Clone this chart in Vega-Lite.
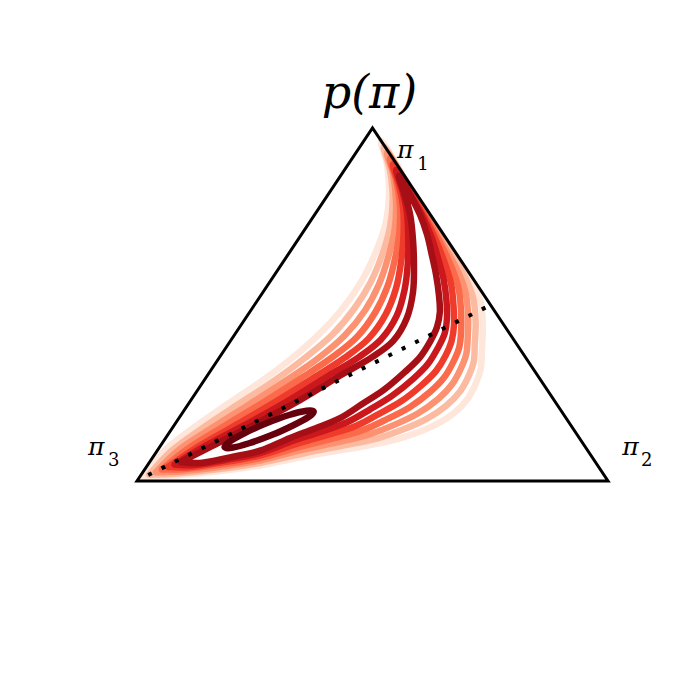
{
  "$schema": "https://vega.github.io/schema/vega-lite/v6.json",
  "width": 471,
  "height": 353,
  "autosize": {"type": "none"},
  "padding": {"left": 137, "top": 128, "right": 69, "bottom": 196},
  "background": "white",
  "config": {"view": {"stroke": null}},
  "datasets": {
    "contours": [
      {"lv":1,"i":1,"x":0.013,"y":0.011},{"lv":1,"i":2,"x":0.059,"y":0.014},{"lv":1,"i":3,"x":0.155,"y":0.025},{"lv":1,"i":4,"x":0.261,"y":0.044},
      {"lv":1,"i":5,"x":0.367,"y":0.072},{"lv":1,"i":6,"x":0.452,"y":0.091},{"lv":1,"i":7,"x":0.527,"y":0.110},{"lv":1,"i":8,"x":0.580,"y":0.130},
      {"lv":1,"i":9,"x":0.633,"y":0.159},{"lv":1,"i":10,"x":0.675,"y":0.195},{"lv":1,"i":11,"x":0.703,"y":0.235},{"lv":1,"i":12,"x":0.720,"y":0.278},
      {"lv":1,"i":13,"x":0.730,"y":0.320},{"lv":1,"i":14,"x":0.732,"y":0.365},{"lv":1,"i":15,"x":0.734,"y":0.433},{"lv":1,"i":16,"x":0.730,"y":0.504},
      {"lv":1,"i":17,"x":0.711,"y":0.564},{"lv":1,"i":18,"x":0.675,"y":0.640},{"lv":1,"i":19,"x":0.637,"y":0.717},{"lv":1,"i":20,"x":0.584,"y":0.824},
      {"lv":1,"i":21,"x":0.518,"y":0.963},{"lv":1,"i":22,"x":0.531,"y":0.895},{"lv":1,"i":23,"x":0.535,"y":0.810},{"lv":1,"i":24,"x":0.527,"y":0.725},
      {"lv":1,"i":25,"x":0.507,"y":0.649},{"lv":1,"i":26,"x":0.478,"y":0.569},{"lv":1,"i":27,"x":0.439,"y":0.493},{"lv":1,"i":28,"x":0.389,"y":0.419},
      {"lv":1,"i":29,"x":0.329,"y":0.348},{"lv":1,"i":30,"x":0.259,"y":0.278},{"lv":1,"i":31,"x":0.183,"y":0.210},{"lv":1,"i":32,"x":0.113,"y":0.144},
      {"lv":1,"i":33,"x":0.055,"y":0.082},{"lv":1,"i":34,"x":0.013,"y":0.011},

      {"lv":2,"i":1,"x":0.026,"y":0.018},{"lv":2,"i":2,"x":0.072,"y":0.020},{"lv":2,"i":3,"x":0.162,"y":0.032},{"lv":2,"i":4,"x":0.261,"y":0.051},
      {"lv":2,"i":5,"x":0.360,"y":0.080},{"lv":2,"i":6,"x":0.440,"y":0.101},{"lv":2,"i":7,"x":0.511,"y":0.121},{"lv":2,"i":8,"x":0.563,"y":0.145},
      {"lv":2,"i":9,"x":0.615,"y":0.176},{"lv":2,"i":10,"x":0.657,"y":0.214},{"lv":2,"i":11,"x":0.686,"y":0.254},{"lv":2,"i":12,"x":0.704,"y":0.297},
      {"lv":2,"i":13,"x":0.715,"y":0.339},{"lv":2,"i":14,"x":0.717,"y":0.384},{"lv":2,"i":15,"x":0.719,"y":0.449},{"lv":2,"i":16,"x":0.714,"y":0.517},
      {"lv":2,"i":17,"x":0.697,"y":0.577},{"lv":2,"i":18,"x":0.665,"y":0.650},{"lv":2,"i":19,"x":0.631,"y":0.723},{"lv":2,"i":20,"x":0.583,"y":0.822},
      {"lv":2,"i":21,"x":0.524,"y":0.947},{"lv":2,"i":22,"x":0.537,"y":0.881},{"lv":2,"i":23,"x":0.543,"y":0.801},{"lv":2,"i":24,"x":0.537,"y":0.718},
      {"lv":2,"i":25,"x":0.521,"y":0.643},{"lv":2,"i":26,"x":0.496,"y":0.563},{"lv":2,"i":27,"x":0.461,"y":0.488},{"lv":2,"i":28,"x":0.415,"y":0.415},
      {"lv":2,"i":29,"x":0.357,"y":0.349},{"lv":2,"i":30,"x":0.289,"y":0.282},{"lv":2,"i":31,"x":0.210,"y":0.213},{"lv":2,"i":32,"x":0.136,"y":0.147},
      {"lv":2,"i":33,"x":0.072,"y":0.084},{"lv":2,"i":34,"x":0.026,"y":0.018},

      {"lv":3,"i":1,"x":0.040,"y":0.025},{"lv":3,"i":2,"x":0.084,"y":0.026},{"lv":3,"i":3,"x":0.169,"y":0.039},{"lv":3,"i":4,"x":0.261,"y":0.058},
      {"lv":3,"i":5,"x":0.353,"y":0.089},{"lv":3,"i":6,"x":0.427,"y":0.110},{"lv":3,"i":7,"x":0.495,"y":0.133},{"lv":3,"i":8,"x":0.546,"y":0.159},
      {"lv":3,"i":9,"x":0.597,"y":0.192},{"lv":3,"i":10,"x":0.640,"y":0.233},{"lv":3,"i":11,"x":0.669,"y":0.274},{"lv":3,"i":12,"x":0.687,"y":0.317},
      {"lv":3,"i":13,"x":0.699,"y":0.359},{"lv":3,"i":14,"x":0.702,"y":0.403},{"lv":3,"i":15,"x":0.703,"y":0.464},{"lv":3,"i":16,"x":0.698,"y":0.531},
      {"lv":3,"i":17,"x":0.683,"y":0.589},{"lv":3,"i":18,"x":0.655,"y":0.659},{"lv":3,"i":19,"x":0.625,"y":0.729},{"lv":3,"i":20,"x":0.583,"y":0.819},
      {"lv":3,"i":21,"x":0.531,"y":0.930},{"lv":3,"i":22,"x":0.544,"y":0.867},{"lv":3,"i":23,"x":0.550,"y":0.791},{"lv":3,"i":24,"x":0.547,"y":0.711},
      {"lv":3,"i":25,"x":0.534,"y":0.637},{"lv":3,"i":26,"x":0.514,"y":0.558},{"lv":3,"i":27,"x":0.484,"y":0.483},{"lv":3,"i":28,"x":0.441,"y":0.412},
      {"lv":3,"i":29,"x":0.386,"y":0.349},{"lv":3,"i":30,"x":0.318,"y":0.286},{"lv":3,"i":31,"x":0.237,"y":0.216},{"lv":3,"i":32,"x":0.159,"y":0.150},
      {"lv":3,"i":33,"x":0.088,"y":0.087},{"lv":3,"i":34,"x":0.040,"y":0.025},

      {"lv":4,"i":1,"x":0.053,"y":0.033},{"lv":4,"i":2,"x":0.097,"y":0.033},{"lv":4,"i":3,"x":0.176,"y":0.046},{"lv":4,"i":4,"x":0.261,"y":0.065},
      {"lv":4,"i":5,"x":0.346,"y":0.097},{"lv":4,"i":6,"x":0.415,"y":0.120},{"lv":4,"i":7,"x":0.479,"y":0.144},{"lv":4,"i":8,"x":0.529,"y":0.174},
      {"lv":4,"i":9,"x":0.579,"y":0.209},{"lv":4,"i":10,"x":0.622,"y":0.252},{"lv":4,"i":11,"x":0.652,"y":0.293},{"lv":4,"i":12,"x":0.671,"y":0.336},
      {"lv":4,"i":13,"x":0.684,"y":0.378},{"lv":4,"i":14,"x":0.688,"y":0.422},{"lv":4,"i":15,"x":0.688,"y":0.480},{"lv":4,"i":16,"x":0.683,"y":0.544},
      {"lv":4,"i":17,"x":0.669,"y":0.602},{"lv":4,"i":18,"x":0.646,"y":0.669},{"lv":4,"i":19,"x":0.619,"y":0.736},{"lv":4,"i":20,"x":0.582,"y":0.817},
      {"lv":4,"i":21,"x":0.537,"y":0.914},{"lv":4,"i":22,"x":0.550,"y":0.853},{"lv":4,"i":23,"x":0.558,"y":0.782},{"lv":4,"i":24,"x":0.557,"y":0.704},
      {"lv":4,"i":25,"x":0.548,"y":0.631},{"lv":4,"i":26,"x":0.532,"y":0.552},{"lv":4,"i":27,"x":0.506,"y":0.478},{"lv":4,"i":28,"x":0.467,"y":0.408},
      {"lv":4,"i":29,"x":0.414,"y":0.350},{"lv":4,"i":30,"x":0.348,"y":0.291},{"lv":4,"i":31,"x":0.265,"y":0.220},{"lv":4,"i":32,"x":0.182,"y":0.153},
      {"lv":4,"i":33,"x":0.105,"y":0.089},{"lv":4,"i":34,"x":0.053,"y":0.033},

      {"lv":5,"i":1,"x":0.066,"y":0.040},{"lv":5,"i":2,"x":0.109,"y":0.039},{"lv":5,"i":3,"x":0.183,"y":0.053},{"lv":5,"i":4,"x":0.261,"y":0.072},
      {"lv":5,"i":5,"x":0.339,"y":0.105},{"lv":5,"i":6,"x":0.403,"y":0.130},{"lv":5,"i":7,"x":0.463,"y":0.155},{"lv":5,"i":8,"x":0.512,"y":0.189},
      {"lv":5,"i":9,"x":0.560,"y":0.225},{"lv":5,"i":10,"x":0.604,"y":0.271},{"lv":5,"i":11,"x":0.635,"y":0.312},{"lv":5,"i":12,"x":0.655,"y":0.355},
      {"lv":5,"i":13,"x":0.668,"y":0.397},{"lv":5,"i":14,"x":0.673,"y":0.441},{"lv":5,"i":15,"x":0.672,"y":0.496},{"lv":5,"i":16,"x":0.667,"y":0.557},
      {"lv":5,"i":17,"x":0.654,"y":0.615},{"lv":5,"i":18,"x":0.636,"y":0.678},{"lv":5,"i":19,"x":0.613,"y":0.742},{"lv":5,"i":20,"x":0.581,"y":0.815},
      {"lv":5,"i":21,"x":0.543,"y":0.897},{"lv":5,"i":22,"x":0.556,"y":0.838},{"lv":5,"i":23,"x":0.565,"y":0.773},{"lv":5,"i":24,"x":0.566,"y":0.697},
      {"lv":5,"i":25,"x":0.561,"y":0.624},{"lv":5,"i":26,"x":0.550,"y":0.546},{"lv":5,"i":27,"x":0.528,"y":0.472},{"lv":5,"i":28,"x":0.492,"y":0.404},
      {"lv":5,"i":29,"x":0.442,"y":0.350},{"lv":5,"i":30,"x":0.378,"y":0.295},{"lv":5,"i":31,"x":0.292,"y":0.223},{"lv":5,"i":32,"x":0.205,"y":0.155},
      {"lv":5,"i":33,"x":0.122,"y":0.091},{"lv":5,"i":34,"x":0.066,"y":0.040},

      {"lv":6,"i":1,"x":0.080,"y":0.047},{"lv":6,"i":2,"x":0.122,"y":0.045},{"lv":6,"i":3,"x":0.190,"y":0.060},{"lv":6,"i":4,"x":0.261,"y":0.079},
      {"lv":6,"i":5,"x":0.332,"y":0.114},{"lv":6,"i":6,"x":0.390,"y":0.139},{"lv":6,"i":7,"x":0.447,"y":0.167},{"lv":6,"i":8,"x":0.495,"y":0.203},
      {"lv":6,"i":9,"x":0.542,"y":0.242},{"lv":6,"i":10,"x":0.587,"y":0.290},{"lv":6,"i":11,"x":0.618,"y":0.332},{"lv":6,"i":12,"x":0.638,"y":0.375},
      {"lv":6,"i":13,"x":0.653,"y":0.417},{"lv":6,"i":14,"x":0.658,"y":0.460},{"lv":6,"i":15,"x":0.657,"y":0.511},{"lv":6,"i":16,"x":0.651,"y":0.571},
      {"lv":6,"i":17,"x":0.640,"y":0.627},{"lv":6,"i":18,"x":0.626,"y":0.688},{"lv":6,"i":19,"x":0.607,"y":0.748},{"lv":6,"i":20,"x":0.581,"y":0.812},
      {"lv":6,"i":21,"x":0.550,"y":0.881},{"lv":6,"i":22,"x":0.563,"y":0.824},{"lv":6,"i":23,"x":0.573,"y":0.763},{"lv":6,"i":24,"x":0.576,"y":0.690},
      {"lv":6,"i":25,"x":0.575,"y":0.618},{"lv":6,"i":26,"x":0.568,"y":0.541},{"lv":6,"i":27,"x":0.551,"y":0.467},{"lv":6,"i":28,"x":0.518,"y":0.401},
      {"lv":6,"i":29,"x":0.471,"y":0.351},{"lv":6,"i":30,"x":0.407,"y":0.299},{"lv":6,"i":31,"x":0.319,"y":0.226},{"lv":6,"i":32,"x":0.228,"y":0.158},
      {"lv":6,"i":33,"x":0.138,"y":0.094},{"lv":6,"i":34,"x":0.080,"y":0.047},

      {"lv":7,"i":1,"x":0.093,"y":0.054},{"lv":7,"i":2,"x":0.134,"y":0.051},{"lv":7,"i":3,"x":0.197,"y":0.067},{"lv":7,"i":4,"x":0.261,"y":0.086},
      {"lv":7,"i":5,"x":0.325,"y":0.122},{"lv":7,"i":6,"x":0.378,"y":0.149},{"lv":7,"i":7,"x":0.431,"y":0.178},{"lv":7,"i":8,"x":0.478,"y":0.218},
      {"lv":7,"i":9,"x":0.524,"y":0.258},{"lv":7,"i":10,"x":0.569,"y":0.309},{"lv":7,"i":11,"x":0.601,"y":0.351},{"lv":7,"i":12,"x":0.622,"y":0.394},
      {"lv":7,"i":13,"x":0.637,"y":0.436},{"lv":7,"i":14,"x":0.643,"y":0.479},{"lv":7,"i":15,"x":0.641,"y":0.527},{"lv":7,"i":16,"x":0.635,"y":0.584},
      {"lv":7,"i":17,"x":0.626,"y":0.640},{"lv":7,"i":18,"x":0.616,"y":0.697},{"lv":7,"i":19,"x":0.601,"y":0.754},{"lv":7,"i":20,"x":0.580,"y":0.810},
      {"lv":7,"i":21,"x":0.556,"y":0.864},{"lv":7,"i":22,"x":0.569,"y":0.810},{"lv":7,"i":23,"x":0.580,"y":0.754},{"lv":7,"i":24,"x":0.586,"y":0.683},
      {"lv":7,"i":25,"x":0.588,"y":0.612},{"lv":7,"i":26,"x":0.586,"y":0.535},{"lv":7,"i":27,"x":0.573,"y":0.462},{"lv":7,"i":28,"x":0.544,"y":0.397},
      {"lv":7,"i":29,"x":0.499,"y":0.351},{"lv":7,"i":30,"x":0.437,"y":0.303},{"lv":7,"i":31,"x":0.346,"y":0.229},{"lv":7,"i":32,"x":0.251,"y":0.161},
      {"lv":7,"i":33,"x":0.155,"y":0.096},{"lv":7,"i":34,"x":0.093,"y":0.054}
    ],
    "peak": [
      {"i":1,"x":0.375,"y":0.197},{"i":2,"x":0.365,"y":0.182},{"i":3,"x":0.332,"y":0.158},{"i":4,"x":0.286,"y":0.130},
      {"i":5,"x":0.238,"y":0.107},{"i":6,"x":0.201,"y":0.094},{"i":7,"x":0.186,"y":0.096},{"i":8,"x":0.196,"y":0.111},
      {"i":9,"x":0.229,"y":0.136},{"i":10,"x":0.276,"y":0.164},{"i":11,"x":0.323,"y":0.187},{"i":12,"x":0.360,"y":0.199}
    ],
    "simplex": [
      {"i":1,"x":0,"y":0},{"i":2,"x":1,"y":0},{"i":3,"x":0.5,"y":1}
    ],
    "guide": [
      {"i":1,"x":0.0238,"y":0.017},{"i":2,"x":0.747,"y":0.496}
    ],
    "labels": [
      {"k":"title","x":0.4936,"y":1.0567,"t":"p(π)"},
      {"k":"pi","x":0.552,"y":0.915,"t":"π"},
      {"k":"sub","x":0.595,"y":0.881,"t":"1"},
      {"k":"pi","x":1.030,"y":0.0737,"t":"π"},
      {"k":"sub","x":1.070,"y":0.0425,"t":"2"},
      {"k":"pi","x":-0.104,"y":0.0737,"t":"π"},
      {"k":"sub","x":-0.0616,"y":0.0425,"t":"3"}
    ]
  },
  "layer": [
    {
      "data": {"name": "contours"},
      "mark": {"type": "line", "interpolate": "catmull-rom", "strokeWidth": 6.5, "strokeCap": "round", "strokeJoin": "round"},
      "encoding": {
        "x": {"field": "x", "type": "quantitative", "scale": {"domain": [0, 1], "nice": false, "zero": false}, "axis": null},
        "y": {"field": "y", "type": "quantitative", "scale": {"domain": [0, 1], "nice": false, "zero": false}, "axis": null},
        "color": {
          "field": "lv",
          "type": "ordinal",
          "scale": {"domain": [1, 2, 3, 4, 5, 6, 7], "range": ["#fee6da", "#fcbba1", "#fc9272", "#fb6a4a", "#ef3b2c", "#cb181d", "#a50f15"]},
          "legend": null
        },
        "order": {"field": "i", "type": "quantitative"}
      }
    },
    {
      "data": {"name": "peak"},
      "mark": {"type": "line", "interpolate": "cardinal-closed", "strokeWidth": 6.5, "color": "#67000d", "strokeJoin": "round"},
      "encoding": {
        "x": {"field": "x", "type": "quantitative", "axis": null},
        "y": {"field": "y", "type": "quantitative", "axis": null},
        "order": {"field": "i", "type": "quantitative"}
      }
    },
    {
      "data": {"name": "simplex"},
      "mark": {"type": "line", "interpolate": "linear-closed", "strokeWidth": 3, "color": "black", "strokeJoin": "miter"},
      "encoding": {
        "x": {"field": "x", "type": "quantitative", "axis": null},
        "y": {"field": "y", "type": "quantitative", "axis": null},
        "order": {"field": "i", "type": "quantitative"}
      }
    },
    {
      "data": {"name": "guide"},
      "mark": {"type": "line", "strokeWidth": 4, "color": "black", "strokeDash": [4, 10.9], "strokeCap": "butt"},
      "encoding": {
        "x": {"field": "x", "type": "quantitative", "axis": null},
        "y": {"field": "y", "type": "quantitative", "axis": null},
        "order": {"field": "i", "type": "quantitative"}
      }
    },
    {
      "data": {"name": "labels"},
      "transform": [{"filter": "datum.k == 'title'"}],
      "mark": {"type": "text", "font": "DejaVu Serif", "fontStyle": "italic", "fontSize": 46, "align": "center", "baseline": "alphabetic", "color": "black"},
      "encoding": {
        "x": {"field": "x", "type": "quantitative", "axis": null},
        "y": {"field": "y", "type": "quantitative", "axis": null},
        "text": {"field": "t"}
      }
    },
    {
      "data": {"name": "labels"},
      "transform": [{"filter": "datum.k == 'pi'"}],
      "mark": {"type": "text", "font": "DejaVu Serif", "fontStyle": "italic", "fontSize": 25, "align": "left", "baseline": "alphabetic", "color": "black"},
      "encoding": {
        "x": {"field": "x", "type": "quantitative", "axis": null},
        "y": {"field": "y", "type": "quantitative", "axis": null},
        "text": {"field": "t"}
      }
    },
    {
      "data": {"name": "labels"},
      "transform": [{"filter": "datum.k == 'sub'"}],
      "mark": {"type": "text", "font": "DejaVu Serif", "fontSize": 18, "align": "left", "baseline": "alphabetic", "color": "black"},
      "encoding": {
        "x": {"field": "x", "type": "quantitative", "axis": null},
        "y": {"field": "y", "type": "quantitative", "axis": null},
        "text": {"field": "t"}
      }
    }
  ]
}
